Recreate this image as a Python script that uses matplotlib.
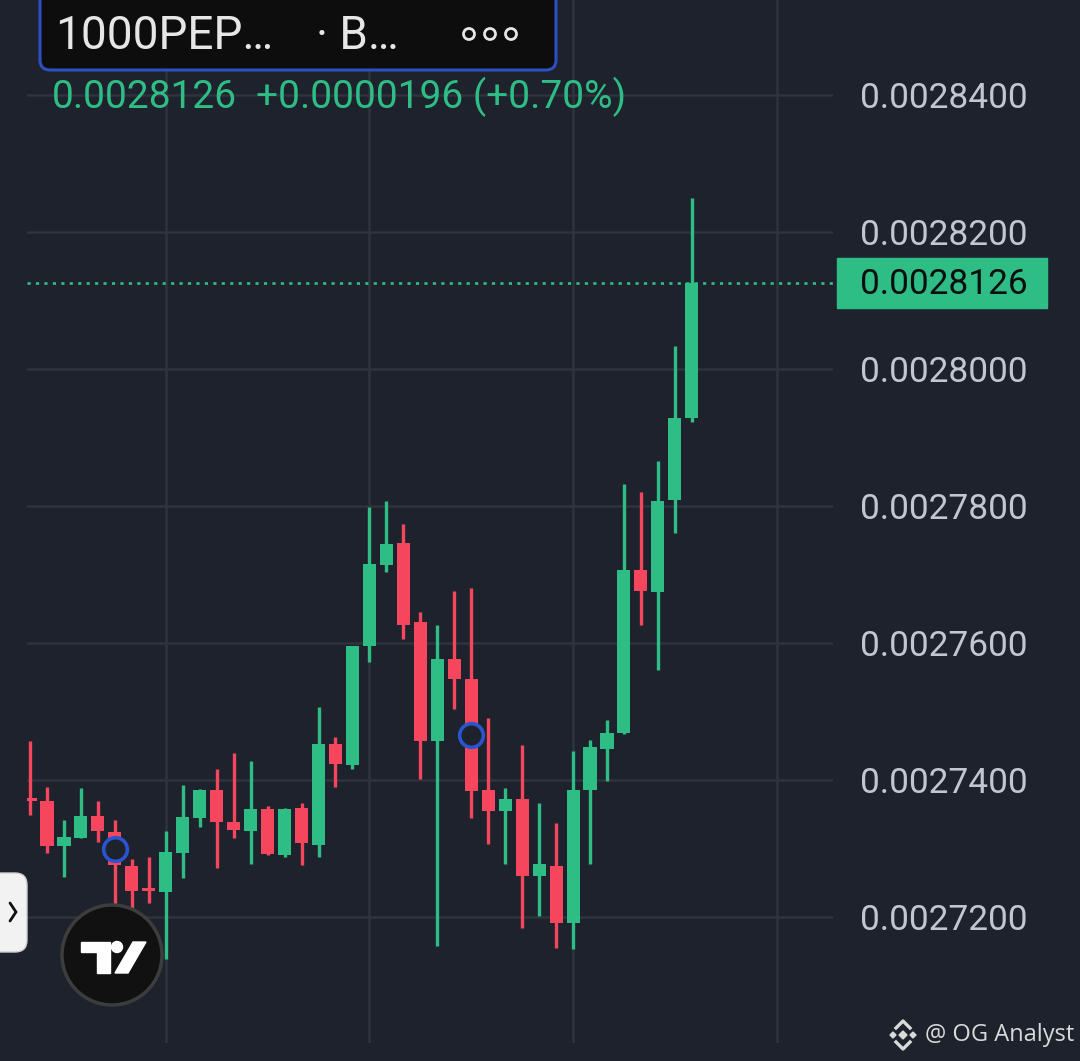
import numpy as np
import matplotlib
matplotlib.use("Agg")
import matplotlib.pyplot as plt
from matplotlib.patches import Rectangle, FancyBboxPatch, Circle, Polygon
from matplotlib.transforms import blended_transform_factory

plt.rcParams['font.family'] = ['Roboto', 'DejaVu Sans']

# OHLC in units of 1e-7
opens = [27374, 27369, 27303, 27316, 27348, 27324, 27275, 27242, 27237, 27294,
         27345, 27385, 27338, 27326, 27357, 27291, 27359, 27305, 27452, 27422,
         27595, 27714, 27746, 27630, 27457, 27577, 27548, 27385, 27355, 27373,
         27260, 27275, 27192, 27386, 27446, 27469, 27707, 27675, 27809, 27929]
highs = [27457, 27390, 27342, 27388, 27369, 27342, 27284, 27288, 27326, 27393,
         27387, 27416, 27440, 27428, 27362, 27359, 27366, 27507, 27463, 27596,
         27798, 27807, 27774, 27646, 27626, 27676, 27681, 27491, 27388, 27451,
         27367, 27337, 27442, 27458, 27488, 27832, 27821, 27865, 28034, 28250]
lows = [27349, 27294, 27259, 27315, 27310, 27196, 27190, 27221, 27139, 27257,
        27332, 27272, 27316, 27278, 27291, 27288, 27276, 27288, 27390, 27416,
        27573, 27704, 27606, 27402, 27158, 27503, 27345, 27307, 27278, 27184,
        27201, 27155, 27153, 27278, 27399, 27467, 27626, 27561, 27761, 27922]
closes = [27369, 27304, 27317, 27348, 27325, 27276, 27238, 27238, 27295, 27346,
          27385, 27338, 27327, 27357, 27292, 27357, 27308, 27452, 27423, 27595,
          27715, 27745, 27626, 27457, 27577, 27547, 27384, 27355, 27372, 27260,
          27277, 27192, 27386, 27448, 27469, 27707, 27676, 27807, 27929, 28126]
price_ticks = [27200, 27400, 27600, 27800, 28000, 28200, 28400]
grid_idx = [8, 20, 32, 44]
marker_idx = [5, 26]
change = 196
change_pct = 0.70

BG = '#1e222d'
GRID = '#2e333e'
GREEN = '#2ebd85'
RED = '#f6465d'
LABEL = '#c3c6ce'

s = 1e-7
o = np.array(opens) * s
h = np.array(highs) * s
l = np.array(lows) * s
c = np.array(closes) * s
x = np.arange(len(o))

fig = plt.figure(figsize=(10.8, 10.61), dpi=100, facecolor=BG)
ax = fig.add_axes([27 / 1080, 18 / 1061, 806 / 1080, 1043 / 1061])
ax.set_facecolor(BG)
ylo, yhi = 27016.1 * s, 28538.7 * s
ax.set_xlim(-0.18, 47.32)
ax.set_ylim(ylo, yhi)
upp = (yhi - ylo) / 1043

cols = np.where(c >= o, GREEN, RED)
ax.vlines(x, l, h, colors=cols, lw=2.4, zorder=3)
ax.bar(x, np.maximum(np.abs(c - o), 3 * upp), bottom=np.minimum(o, c),
       width=0.77, color=cols, zorder=4)

mid = (o[marker_idx] + c[marker_idx]) / 2
ax.scatter(marker_idx, mid, s=290, facecolor=BG, edgecolor='#2a55d0',
           linewidth=2.6, zorder=5)

ax.set_yticks(np.array(price_ticks) * s)
ax.set_yticklabels([f"{p * s:.7f}" for p in price_ticks])
ax.yaxis.tick_right()
ax.tick_params(axis='y', length=0, pad=19.4, labelsize=25.4, labelcolor=LABEL)
ax.set_xticks(grid_idx)
ax.set_xticklabels([])
ax.tick_params(axis='x', length=0)
ax.grid(True, color=GRID, lw=1.8, zorder=0)
for sp in ax.spines.values():
    sp.set_visible(False)

ax.axhline(c[-1], color=GREEN, ls=(0, (1.2, 2.0)), lw=1.9, zorder=2)
tr = blended_transform_factory(ax.transAxes, ax.transData)
ax.add_patch(Rectangle((1 + 4 / 806, c[-1] - 25 * upp), 210 / 806, 50 * upp,
                       transform=tr, color=GREEN, clip_on=False))
ax.text(1 + 27 / 806, c[-1] - 2 * upp, f"{c[-1]:.7f}", transform=tr, fontsize=25.4,
        color='#0b0e11', va='center', ha='left', clip_on=False)

# overlay in pixel coordinates
ov = fig.add_axes([0, 0, 1, 1])
ov.set_xlim(0, 1080)
ov.set_ylim(1061, 0)
ov.axis('off')
ov.patch.set_alpha(0)

ov.add_patch(FancyBboxPatch((40, -20), 516, 90, boxstyle="round,pad=0,rounding_size=10",
                            fc='#0d0d0d', ec='#2c50c0', lw=2.2))
ov.text(55, 36, "1000PEP…", fontsize=33, color='#e6e6e6', va='center', ha='left')
ov.text(316, 36, "· B…", fontsize=33, color='#e6e6e6', va='center', ha='left')
for cx in [469, 490, 511]:
    ov.add_patch(Circle((cx, 34), 5.5, fc='none', ec='#e6e6e6', lw=2))

ov.text(52, 97, f"{c[-1]:.7f}", fontsize=28, color=GREEN, va='center', ha='left')
ov.text(256, 97, f"+{change * s:.7f} (+{change_pct:.2f}%)", fontsize=28,
        color=GREEN, va='center', ha='left')

# TradingView logo
ov.add_patch(Circle((112, 955), 50, fc='#111111', ec='#3d3d3d', lw=2.5, zorder=6))
ov.add_patch(Polygon([(81, 942), (110, 942), (110, 973), (97, 973), (97, 952), (81, 952)],
                     color='white', zorder=7))
ov.add_patch(Circle((117, 947), 5.5, color='white', zorder=7))
ov.add_patch(Polygon([(133, 942), (146, 942), (128, 973), (115, 973)], color='white', zorder=7))

# side toggle
ov.add_patch(FancyBboxPatch((-15, 873), 42, 79, boxstyle="round,pad=0,rounding_size=12",
                            fc='#f2f2f2', ec='#cfcfcf', lw=1, zorder=6))
ov.plot([10, 16, 10], [903, 912, 921], color='#111111', lw=2.0, zorder=7,
        solid_capstyle='round', solid_joinstyle='miter')

# watermark
wm = '#d9d9d9'
ov.add_patch(Polygon([(903, 1031), (907, 1035), (903, 1039), (899, 1035)], color=wm))
ov.add_patch(Polygon([(893, 1032), (896, 1035), (893, 1038), (890, 1035)], color=wm))
ov.add_patch(Polygon([(913, 1032), (916, 1035), (913, 1038), (910, 1035)], color=wm))
ov.plot([896, 903, 910], [1028, 1021, 1028], color=wm, lw=2.4)
ov.plot([896, 903, 910], [1042, 1049, 1042], color=wm, lw=2.4)
ov.text(925, 1035, "@ OG Analyst", fontsize=17, family='Open Sans', color=wm,
        va='center', ha='left')

fig.savefig("out.png", dpi=100, facecolor=BG)
